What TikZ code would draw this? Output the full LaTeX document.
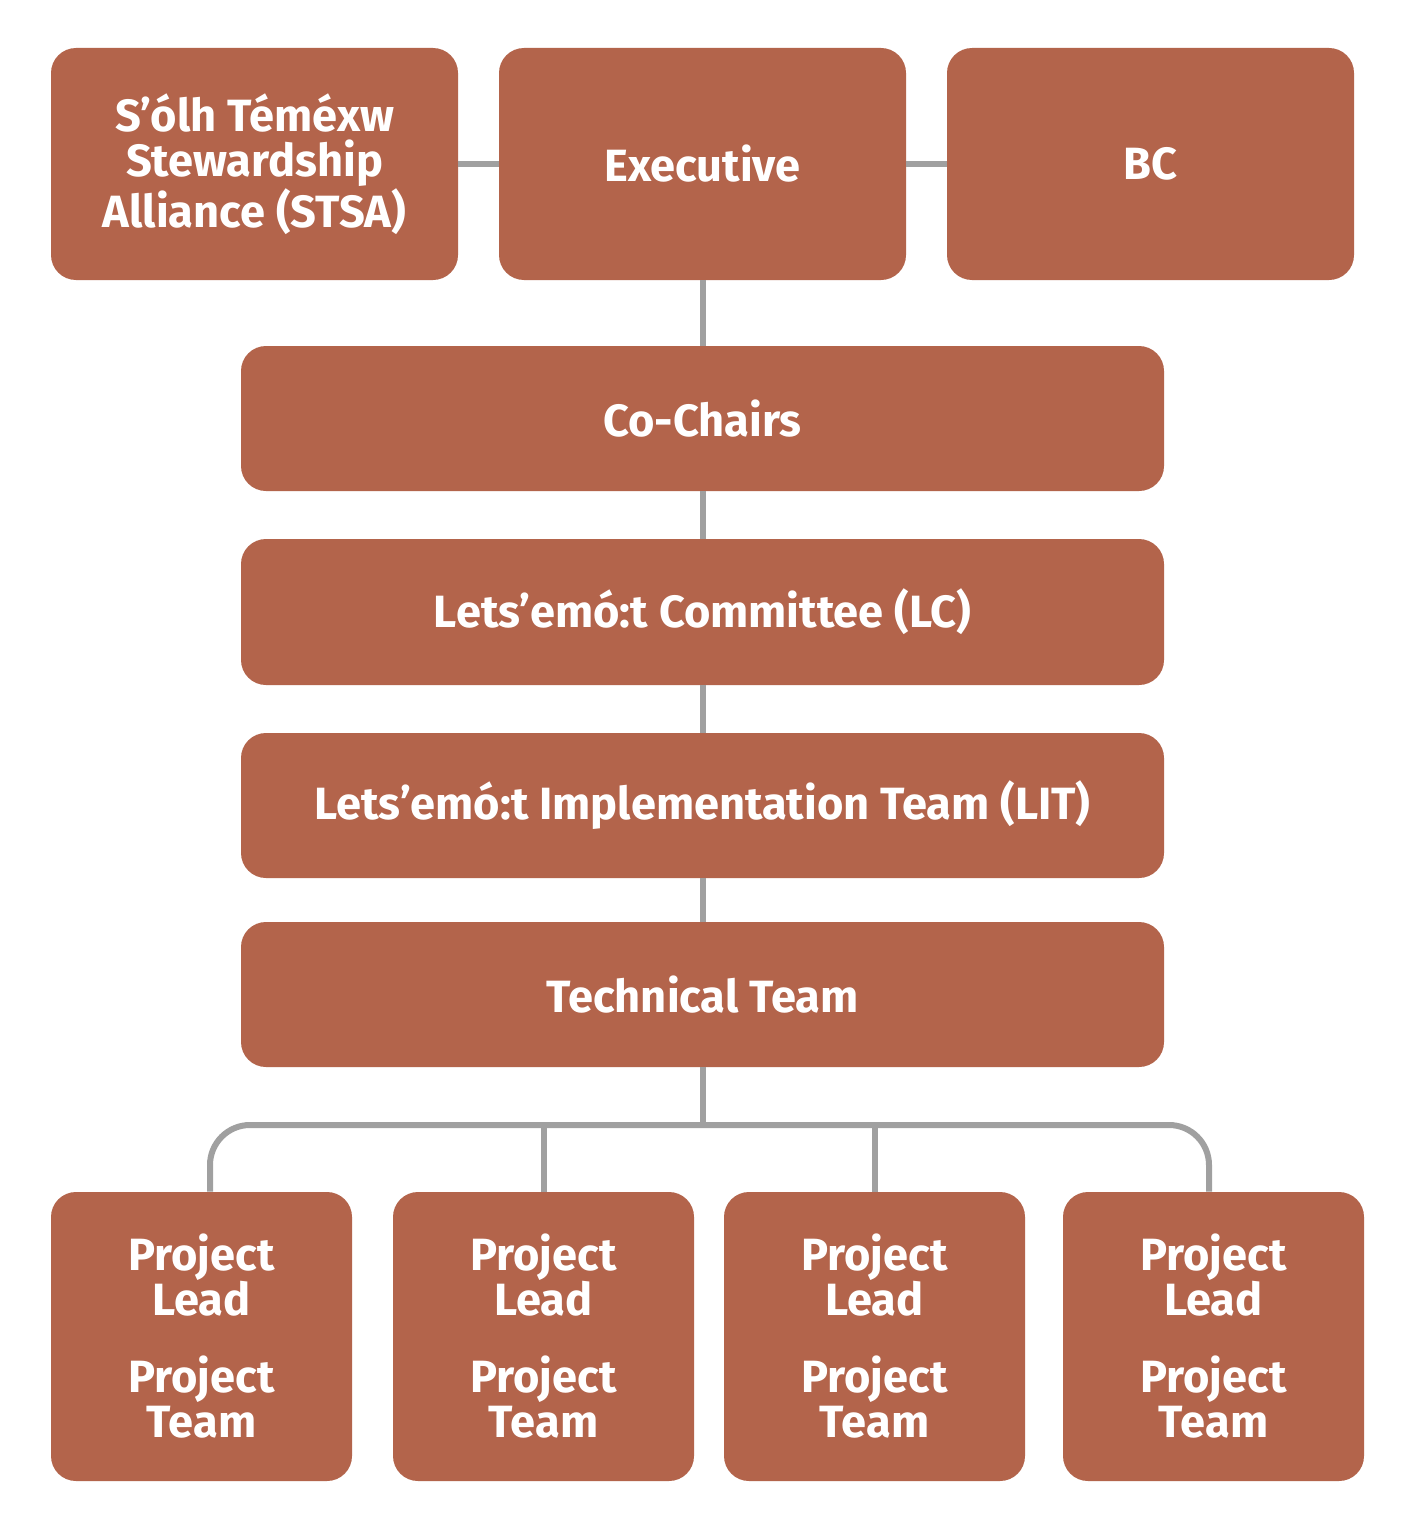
\documentclass[tikz,border=0pt]{standalone}
\usepackage{fontspec}
\setmainfont{Fira Sans}
\usetikzlibrary{calc}
\definecolor{boxfill}{HTML}{B3644B}
\definecolor{linegray}{HTML}{A0A0A0}
\begin{document}
\begin{tikzpicture}[x=0.5pt,y=-0.5pt,
  box/.style={draw=none, fill=boxfill, rounded corners=12.5pt, text=white,
    font=\fontsize{22.6pt}{22.5pt}\selectfont\bfseries, align=center, inner sep=0pt},
  conn/.style={draw=linegray, line width=3pt}]
\fill[white] (0,0) rectangle (1422,1536);
\useasboundingbox (0,0) rectangle (1422,1536);
% top row
\node[box, minimum width=203.5pt, minimum height=116pt] (stsa) at (254.5,164) {S’ólh Téméxw\\Stewardship\\Alliance (STSA)};
\node[box, minimum width=203.5pt, minimum height=116pt] (exec) at (702.5,164) {Executive};
\node[box, minimum width=203.5pt, minimum height=116pt] (bc) at (1150.5,164) {BC};
% middle column
\node[box, minimum width=461.5pt, minimum height=72.5pt] (cochairs) at (702.5,418.5) {Co-Chairs};
\node[box, minimum width=461.5pt, minimum height=73pt] (lc) at (702.5,612) {Lets’emó:t Committee (LC)};
\node[box, minimum width=461.5pt, minimum height=72.5pt] (lit) at (702.5,805.5) {Lets’emó:t Implementation Team (LIT)};
\node[box, minimum width=461.5pt, minimum height=72.5pt] (tech) at (702.5,994.5) {Technical Team};
% bottom row
\foreach \n/\cx in {p1/201.5, p2/543.5, p3/874.5, p4/1213.5}{
  \node[box, minimum width=150.5pt, minimum height=144.5pt] (\n) at (\cx,1336.5)
    {Project\\Lead\\[16pt]Project\\Team};
}
\coordinate (bus) at (702.5,1125);
% connectors
\draw[conn] (stsa.east) -- (exec.west);
\draw[conn] (exec.east) -- (bc.west);
\draw[conn] (exec.south) -- (cochairs.north);
\draw[conn] (cochairs.south) -- (lc.north);
\draw[conn] (lc.south) -- (lit.north);
\draw[conn] (lit.south) -- (tech.north);
\draw[conn] (tech.south) -- (bus);
\draw[conn, rounded corners=20pt] ([xshift=4.25pt]p1.north) |- (bus) -| ([xshift=-2.25pt]p4.north);
\draw[conn] (p2.north) -- (p2.north |- bus);
\draw[conn] (p3.north) -- (p3.north |- bus);
\end{tikzpicture}
\end{document}
